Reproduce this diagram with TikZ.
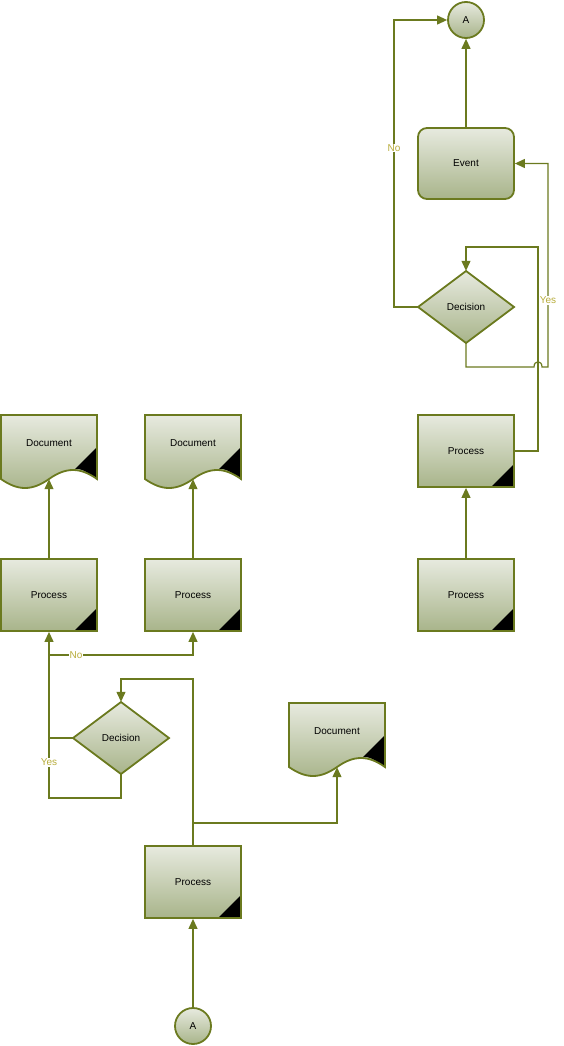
\documentclass[tikz,border=0pt]{standalone}
\usepackage{fontspec}
\setmainfont{Liberation Sans}
\usetikzlibrary{arrows.meta,calc}
\definecolor{olive}{HTML}{6B7A1F}
\definecolor{gtop}{HTML}{E7EADF}
\definecolor{gbot}{HTML}{A8B48A}
\definecolor{lbl}{HTML}{B8AD3C}
\tikzset{
  shp/.style={draw=olive,line width=1.8pt,top color=gtop,bottom color=gbot,font=\fontsize{10}{12}\selectfont,inner sep=0pt},
  procbox/.style={shp,rectangle,minimum width=96pt,minimum height=72pt,
    path picture={\fill[black] (path picture bounding box.south east) -- ++(-23pt,0pt) -- ++(23pt,23pt) -- cycle;}},
  evbox/.style={shp,rectangle,rounded corners=9pt,minimum width=96pt,minimum height=71pt},
  conbox/.style={shp,circle,minimum size=36pt},
  hid/.style={rectangle,inner sep=0pt,font=\fontsize{10}{12}\selectfont},
  conn/.style={draw=olive,line width=1.2pt,-{Triangle[length=10pt,width=9pt]}},
  lab/.style={fill=white,text=lbl,inner sep=1pt,font=\fontsize{10}{12}\selectfont}
}
% document shape: #1 name, #2 x centre, #3 y top
\newcommand\mydocshape[3]{%
  \shade[top color=gtop,bottom color=gbot]
    (#2-48,#3) -- (#2+48,#3) -- (#2+48,#3+64)
    .. controls (#2+31,#3+52) and (#2+17,#3+52) .. (#2,#3+64)
    .. controls (#2-17,#3+76) and (#2-31,#3+76) .. (#2-48,#3+64) -- cycle;
  \fill[black] (#2+48,#3+32) -- (#2+26,#3+54) .. controls (#2+33,#3+54) .. (#2+48,#3+64) -- cycle;
  \draw[olive,line width=1.8pt,line join=miter]
    (#2-48,#3) -- (#2+48,#3) -- (#2+48,#3+64)
    .. controls (#2+31,#3+52) and (#2+17,#3+52) .. (#2,#3+64)
    .. controls (#2-17,#3+76) and (#2-31,#3+76) .. (#2-48,#3+64) -- cycle;
  \node[hid,minimum width=96pt,minimum height=64pt] (#1) at (#2,#3+32) {\raisebox{8pt}{Document}};
}
\newcommand\mydecshape[3]{%
  \shade[top color=gtop,bottom color=gbot] (#2,#3-36) -- (#2+48,#3) -- (#2,#3+36) -- (#2-48,#3) -- cycle;
  \draw[olive,line width=1.8pt] (#2,#3-36) -- (#2+48,#3) -- (#2,#3+36) -- (#2-48,#3) -- cycle;
  \node[hid,minimum width=96pt,minimum height=72pt] (#1) at (#2,#3) {Decision};
}
\begin{document}
\begin{tikzpicture}[x=1pt,y=-1pt]
\useasboundingbox (0,0) rectangle (564,1046);
% ---------- right column ----------
\node[conbox] (ca) at (466,20) {A};
\node[evbox] (ev) at (466,163.5) {Event};
\mydecshape{dA}{466}{307}
\node[procbox] (pA) at (466,451) {Process};
\node[procbox] (pB) at (466,595) {Process};
% ---------- left part ----------
\mydocshape{d1}{49}{415}
\mydocshape{d2}{193}{415}
\node[procbox] (p1) at (49,595) {Process};
\node[procbox] (p2) at (193,595) {Process};
\mydecshape{dB}{121}{738}
\mydocshape{d3}{337}{703}
\node[procbox] (pC) at (193,882) {Process};
\node[conbox] (cb) at (193,1026) {A};
% ---------- connectors right ----------
\draw[conn] (ev.north) -- (ca.south);
\draw[conn] (dA.west) -- (394,307) |- (ca.west) node[lab,pos=0.277] {No};
\draw[conn] (pB.north) -- (pA.south);
\draw[conn] (pA.east) -| (538,247) -| (dA.north);
\draw[conn] (dA.south) |- (534,367) .. controls (534,360) and (542,360) .. (542,367) -- (548,367) |- (ev.east) node[lab,pos=0.164] {Yes};
% ---------- connectors left ----------
\draw[conn] (p1.north) -- (d1.south);
\draw[conn] (p2.north) -- (d2.south);
\draw[conn] (dB.south) -- (121,798) -| (p1.south) node[lab,pos=0.608] {Yes};
\draw[conn] (dB.west) -| (49,655) -| (p2.south) node[lab,pos=0.094] {No};
\draw[conn] (pC.north) |- (121,679) -- (dB.north);
\draw[conn] (pC.north) -- (193,823) -| (d3.south);
\draw[conn] (cb.north) -- (pC.south);
\end{tikzpicture}
\end{document}
